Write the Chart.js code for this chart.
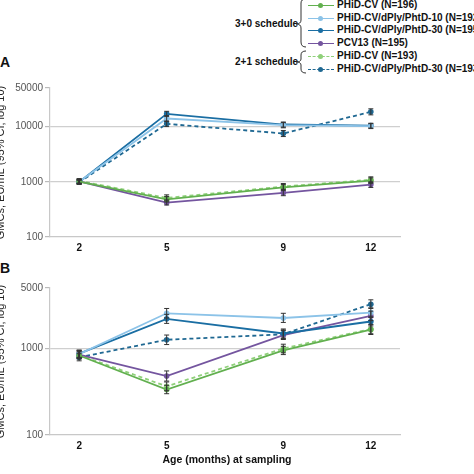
<!DOCTYPE html>
<html><head><meta charset="utf-8">
<script src="https://cdn.jsdelivr.net/npm/chart.js@4"></script>
<style>
html,body{margin:0;padding:0;background:#fff;width:474px;height:474px;overflow:hidden;font-family:"Liberation Sans",Arial,sans-serif;}
.box{position:absolute;}
.lg{position:absolute;font-size:10px;font-weight:bold;color:#111;white-space:nowrap;line-height:12px;}
.smp{position:absolute;width:26px;height:0;}
.dot{position:absolute;width:5px;height:5px;border-radius:50%;left:10px;top:-3px;}
</style></head><body>
<div class="box" style="left:-6px;top:80px;width:416px;height:177px;"><canvas id="cA"></canvas></div>
<div class="box" style="left:-6px;top:280px;width:416px;height:175px;"><canvas id="cB"></canvas></div>
<div class="lg" style="left:0px;top:56px;font-size:14px;">A</div>
<div class="lg" style="left:0px;top:262px;font-size:14px;">B</div>
<div class="lg" style="left:125px;width:204px;text-align:center;top:453px;font-size:10.5px;">Age (months) at sampling</div>
<div id="legend"></div>
<script>
// ---------- data ----------
const ages = [2, 5, 9, 12];
const xTicks = [2, 5, 9, 12];
const yTicksA = [100, 1000, 10000, 50000];
const yTicksB = [100, 1000, 5000];
const seriesNames = ["PHiD-CV (N=196)", "PHiD-CV/dPly/PhtD-10 (N=192)", "PHiD-CV/dPly/PhtD-30 (N=195)", "PCV13 (N=195)", "PHiD-CV (N=193)", "PHiD-CV/dPly/PhtD-30 (N=193)"];
const groupNames = ["3+0 schedule", "2+1 schedule"];
const yTitle = "GMCs, EU/mL (95% CI, log 10)";

// Panel A
const aPhid30 = [1010, 480, 790, 1050];
const aPly10 = [1000, 14000, 10600, 10200];
const aPly30 = [990, 17000, 10900, 10400];
const aPcv13 = [1020, 420, 630, 890];
const aPhid21 = [1040, 510, 820, 1090];
const aPly30b = [980, 11200, 7500, 18500];
const aPhid30Lo = [920, 430, 700, 940];   const aPhid30Hi = [1110, 540, 890, 1180];
const aPly10Lo = [920, 12400, 9500, 9200]; const aPly10Hi = [1090, 15800, 11800, 11300];
const aPly30Lo = [910, 15300, 9800, 9400]; const aPly30Hi = [1080, 18900, 12100, 11500];
const aPcv13Lo = [930, 380, 560, 790];    const aPcv13Hi = [1120, 470, 710, 1000];
const aPhid21Lo = [950, 450, 730, 970];   const aPhid21Hi = [1140, 580, 930, 1230];
const aPly30bLo = [900, 10000, 6600, 16300]; const aPly30bHi = [1070, 12600, 8500, 21000];

// Panel B
const bPhid30 = [830, 335, 950, 1650];
const bPly10 = [860, 2550, 2250, 2600];
const bPly30 = [870, 2200, 1490, 2050];
const bPcv13 = [850, 480, 1430, 2380];
const bPhid21 = [840, 365, 1000, 1680];
const bPly30b = [790, 1260, 1460, 3250];
const bPhid30Lo = [760, 300, 850, 1450];   const bPhid30Hi = [910, 375, 1060, 1880];
const bPly10Lo = [780, 2250, 2000, 2300];  const bPly10Hi = [950, 2900, 2550, 2950];
const bPly30Lo = [790, 1950, 1320, 1820];  const bPly30Hi = [960, 2480, 1680, 2310];
const bPcv13Lo = [770, 420, 1270, 2100];   const bPcv13Hi = [940, 550, 1610, 2700];
const bPhid21Lo = [760, 325, 890, 1480];   const bPhid21Hi = [930, 410, 1120, 1900];
const bPly30bLo = [720, 1110, 1300, 2900]; const bPly30bHi = [870, 1430, 1640, 3650];

// ---------- styles ----------
const colors = ["#62b04f", "#8cc3e8", "#1a6ea3", "#74559f", "#8fd07a", "#1f6892"];
const dashes = [[], [], [], [], [4, 3], [4, 3]];

function mk(vals, lo, hi, i) {
  return {
    label: seriesNames[i],
    data: ages.map((a, k) => ({x: a, y: vals[k], lo: lo[k], hi: hi[k]})),
    borderColor: colors[i], backgroundColor: colors[i],
    borderWidth: 1.8, borderDash: dashes[i],
    pointRadius: 2.8, pointBorderWidth: 0, pointBackgroundColor: colors[i],
    tension: 0
  };
}

const errPlugin = {
  id: 'err',
  afterDatasetsDraw(chart) {
    const c = chart.ctx, xs = chart.scales.x, ys = chart.scales.y;
    c.save();
    c.strokeStyle = '#333'; c.lineWidth = 1;
    chart.data.datasets.forEach(ds => {
      ds.data.forEach(p => {
        const x = xs.getPixelForValue(p.x), y1 = ys.getPixelForValue(p.lo), y2 = ys.getPixelForValue(p.hi);
        c.beginPath();
        c.moveTo(x, y1); c.lineTo(x, y2);
        c.moveTo(x - 2.5, y1); c.lineTo(x + 2.5, y1);
        c.moveTo(x - 2.5, y2); c.lineTo(x + 2.5, y2);
        c.stroke();
      });
    });
    c.restore();
  }
};

function makeChart(id, datasets, ymin, ymax, yticks, gridVals) {
  return new Chart(document.getElementById(id), {
    type: 'line',
    data: {datasets},
    plugins: [errPlugin],
    options: {
      responsive: true, maintainAspectRatio: false, animation: false,
      layout: {padding: {top: 0, right: 10, bottom: 0, left: 0}},
      plugins: {legend: {display: false}, tooltip: {enabled: false}},
      scales: {
        x: {
          type: 'linear', min: 1, max: 13,
          afterBuildTicks: s => { s.ticks = xTicks.map(v => ({value: v})); },
          afterFit: s => { s.height = 20; },
          grid: {display: false, drawTicks: false},
          border: {color: '#c8c8c8', width: 1.2},
          ticks: {padding: 5, color: '#111', font: {family: '"Liberation Sans", Arial', size: 10, weight: 'bold'}}
        },
        y: {
          type: 'logarithmic', min: ymin, max: ymax,
          afterBuildTicks: s => { s.ticks = yticks.map(v => ({value: v})); },
          afterFit: s => { s.width = 56; },
          grid: {
            color: ctx => (gridVals.includes(ctx.tick && ctx.tick.value) ? '#cfcfcf' : 'rgba(0,0,0,0)'),
            tickColor: '#bbb', tickLength: 5, lineWidth: 1.2
          },
          border: {color: '#c8c8c8', width: 1.2},
          title: {display: true, text: yTitle, color: '#222', padding: {top: 0, bottom: 0}, font: {family: '"Liberation Sans", Arial', size: 11}},
          ticks: {padding: 2, color: '#555', callback: v => String(v), font: {family: '"Liberation Sans", Arial', size: 10}}
        }
      }
    }
  });
}

makeChart('cA', [
  mk(aPhid30, aPhid30Lo, aPhid30Hi, 0),
  mk(aPly10, aPly10Lo, aPly10Hi, 1),
  mk(aPly30, aPly30Lo, aPly30Hi, 2),
  mk(aPcv13, aPcv13Lo, aPcv13Hi, 3),
  mk(aPhid21, aPhid21Lo, aPhid21Hi, 4),
  mk(aPly30b, aPly30bLo, aPly30bHi, 5)
], 100, 50000, yTicksA, [1000, 10000]);

makeChart('cB', [
  mk(bPhid30, bPhid30Lo, bPhid30Hi, 0),
  mk(bPly10, bPly10Lo, bPly10Hi, 1),
  mk(bPly30, bPly30Lo, bPly30Hi, 2),
  mk(bPcv13, bPcv13Lo, bPcv13Hi, 3),
  mk(bPhid21, bPhid21Lo, bPhid21Hi, 4),
  mk(bPly30b, bPly30bLo, bPly30bHi, 5)
], 100, 5000, yTicksB, [1000]);

// ---------- legend ----------
const lg = document.getElementById('legend');
const rowY = [5, 18, 30, 43, 56, 69];
let html = '';
seriesNames.forEach((n, i) => {
  const st = dashes[i].length ? 'dashed' : 'solid';
  html += `<div class="smp" style="left:308px;top:${rowY[i]}px;border-top:1.8px ${st} ${colors[i]};"><div class="dot" style="background:${colors[i]}"></div></div>`;
  html += `<div class="lg" style="left:337px;top:${rowY[i] - 6}px;">${n}</div>`;
});
html += `<div class="lg" style="left:235px;top:18px;">${groupNames[0]}</div>`;
html += `<div class="lg" style="left:235px;top:56px;">${groupNames[1]}</div>`;
html += `<svg style="position:absolute;left:0;top:0" width="474" height="80">
<path d="M306,-1 Q301,-1 301,3 L301,20 Q301,24 296,24 Q301,24 301,28 L301,42 Q301,47 306,47" fill="none" stroke="#333" stroke-width="1"/>
<path d="M306,51 Q301,51 301,55 L301,59 Q301,62 296,62 Q301,62 301,65 L301,69 Q301,73 306,73" fill="none" stroke="#333" stroke-width="1"/>
</svg>`;
lg.innerHTML = html;
</script>
</body></html>
